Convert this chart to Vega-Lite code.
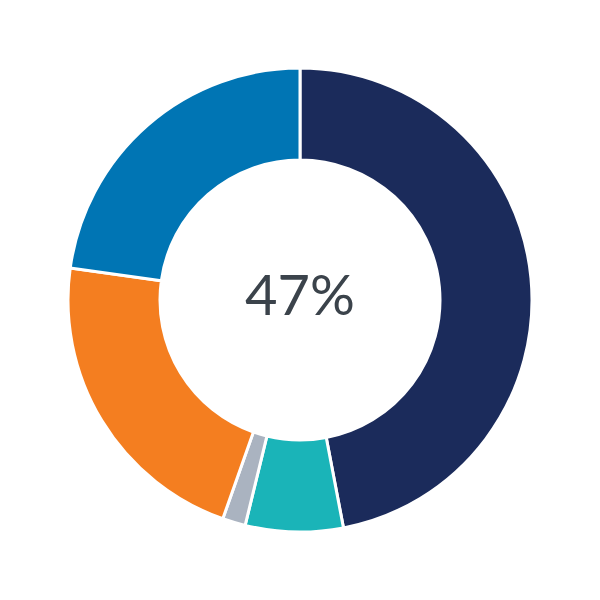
{
  "$schema": "https://vega.github.io/schema/vega-lite/v6.json",
  "width": 600,
  "height": 600,
  "autosize": {"type": "fit", "contains": "padding"},
  "padding": 0,
  "background": "white",
  "view": {"stroke": null},
  "data": {"values": [
    {"category": "A", "value": 47, "order": 1},
    {"category": "B", "value": 6.8, "order": 2},
    {"category": "C", "value": 1.6, "order": 3},
    {"category": "D", "value": 21.8, "order": 4},
    {"category": "E", "value": 22.8, "order": 5}
  ]},
  "layer": [
    {
      "mark": {"type": "arc", "outerRadius": 232, "innerRadius": 140, "stroke": "white", "strokeWidth": 3},
      "encoding": {
        "theta": {"field": "value", "type": "quantitative", "stack": true},
        "order": {"field": "order", "type": "quantitative"},
        "color": {
          "field": "category",
          "type": "nominal",
          "scale": {"domain": ["A", "B", "C", "D", "E"], "range": ["#1b2b5b", "#1ab4b8", "#aab3c0", "#f47e20", "#0075b4"]},
          "legend": null
        }
      }
    },
    {
      "data": {"values": [{"label": "47%"}]},
      "mark": {"type": "text", "font": "Lato", "fontSize": 56, "fontWeight": 400, "color": "#3b434b", "baseline": "middle", "align": "center", "dy": -2},
      "encoding": {"text": {"field": "label"}}
    }
  ]
}
